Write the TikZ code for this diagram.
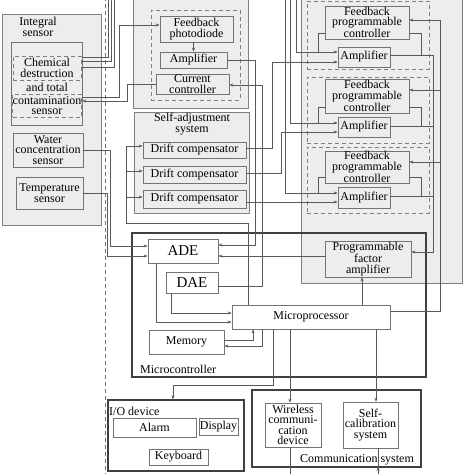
\documentclass[tikz,border=0pt]{standalone}
\usepackage{fontspec}
\setmainfont{Liberation Serif}
\usetikzlibrary{arrows.meta}
\newcommand\myfs{\fontsize{12}{10.5}\selectfont}
\newcommand\mybigfs{\fontsize{15}{14}\selectfont}
\newcommand\mybox[7]{\node[#2, minimum width={(#5-#3)*1pt}, minimum height={(#6-#4)*1pt}] (#1) at ({(#3+#5)/2},{(#4+#6)/2}) {#7};}
\begin{document}
\begin{tikzpicture}[x=1pt,y=-1pt,
  panel/.style={draw=black!50, fill=black!7, line width=0.7pt, inner sep=0pt},
  box/.style={draw=black!55, fill=black!7, line width=0.7pt, inner sep=0pt, align=center, font=\myfs},
  wbox/.style={box, fill=white},
  dbox/.style={draw=black!50, dash pattern=on 4pt off 3pt, line width=0.6pt, inner sep=0pt, align=center, font=\myfs},
  tbox/.style={draw=black!75, line width=1.3pt, inner sep=0pt},
  wire/.style={draw=black!65, line width=0.6pt},
  arr/.style={wire, -{Stealth[length=4pt,width=3pt]}},
  lbl/.style={inner sep=0pt, align=center, font=\myfs}
]
\useasboundingbox (0,0) rectangle (474,474);
\fill[white] (0,0) rectangle (474,474);

% ---------- panels ----------
\mybox{intpanel}{panel}{2}{14}{101}{225}{}
\mybox{midpanel}{panel}{133}{-3}{248}{108}{}
\mybox{selfpanel}{panel}{134}{112}{249}{213}{}
\mybox{rightpanel}{panel}{301}{-3}{462}{283}{}

% ---------- integral sensor ----------
\node[lbl] (inttitle) at (38,27) {Integral\\sensor};
\mybox{intinner}{box}{11}{42}{82}{125}{}
\mybox{chemA}{dbox}{13}{56}{81}{80}{Chemical\\destruction}
\node[lbl] (andtotal) at (47,87) {and total};
\mybox{chemB}{dbox}{13}{94}{81}{117}{contamination\\sensor}
\mybox{water}{box}{13}{133}{83}{167}{Water\\concentration\\sensor}
\mybox{temp}{box}{16}{177}{83}{209}{Temperature\\sensor}

% ---------- middle top ----------
\mybox{middashed}{dbox}{151}{10}{240}{100}{}
\mybox{photo}{box}{160}{16}{233}{42}{Feedback\\photodiode}
\mybox{amp0}{box}{160}{52}{227}{68}{Amplifier}
\mybox{current}{box}{156}{74}{229}{94}{Current\\controller}

% ---------- self adjustment ----------
\node[lbl] (selftitle) at (192,124) {Self-adjustment\\system};
\mybox{dc1}{box}{143}{142}{246}{158}{Drift compensator}
\mybox{dc2}{box}{143}{166}{246}{183}{Drift compensator}
\mybox{dc3}{box}{143}{190}{246}{208}{Drift compensator}

% ---------- right panel ----------
\mybox{db1}{dbox}{307}{1}{429}{69}{}
\mybox{db2}{dbox}{307}{77}{429}{143}{}
\mybox{db3}{dbox}{307}{147}{429}{213}{}
\mybox{fpc1}{box}{325}{6}{409}{39}{Feedback\\programmable\\controller}
\mybox{amp1}{box}{338}{47}{390}{67}{Amplifier}
\mybox{fpc2}{box}{325}{79}{409}{113}{Feedback\\programmable\\controller}
\mybox{amp2}{box}{338}{117}{390}{137}{Amplifier}
\mybox{fpc3}{box}{325}{151}{409}{183}{Feedback\\programmable\\controller}
\mybox{amp3}{box}{338}{187}{390}{208}{Amplifier}
\mybox{pfa}{box}{325}{241}{411}{277}{Programmable\\factor\\amplifier}

% ---------- microcontroller ----------
\mybox{mc}{tbox}{132}{233}{426}{377}{}
\node[lbl, anchor=west] (mclbl) at (140,369) {Microcontroller};
\mybox{ade}{wbox}{148}{239}{218}{263}{\mybigfs ADE}
\mybox{dae}{wbox}{166}{272}{218}{293}{\mybigfs DAE}
\mybox{mp}{wbox}{232}{305}{390}{329}{Microprocessor}
\mybox{memory}{wbox}{149}{330}{224}{354}{Memory}

% ---------- I/O ----------
\mybox{io}{tbox}{108}{400}{244}{471}{}
\node[lbl, anchor=west] (iolbl) at (109,411) {I/O device};
\mybox{alarm}{wbox}{113}{418}{196}{437}{Alarm}
\mybox{display}{wbox}{199}{418}{238}{435}{Display}
\mybox{keyboard}{wbox}{149}{449}{208}{465}{Keyboard}

% ---------- communication ----------
\mybox{comm}{tbox}{252}{390}{421}{467}{}
\node[lbl] (commlbl) at (357,460) {Communication system};
\mybox{wireless}{wbox}{265}{403}{321}{447}{Wireless\\communi-\\cation\\device}
\mybox{selfcal}{wbox}{343}{402}{398}{448}{Self-\\calibration\\system}

% ---------- dashed separator ----------
\coordinate (sepT) at (105,-3);
\coordinate (sepB) at (105,477);
\draw[draw=black!55, dash pattern=on 4pt off 3pt, line width=0.6pt] (sepT) -- (sepB);

% ---------- free ends ----------
\coordinate (t1) at (108,-3);
\coordinate (t2) at (111,-3);
\coordinate (t3) at (114,-3);
\coordinate (t4) at (296,-3);
\coordinate (t5) at (290,-3);
\coordinate (t6) at (285,-3);
\coordinate (b1) at (290,477);
\coordinate (b2) at (378,477);
\coordinate (b2a) at (378,467);
\coordinate (f2) at (440,90);
\coordinate (f3) at (440,162);
\coordinate (s2) at (126,171);
\coordinate (s3) at (126,197);

% ---------- connectors ----------
\draw[wire] (intinner.east |- 0,57) -| (t1);
\draw[wire] (intinner.east |- 0,61) -| (t2);
\draw[wire] (intinner.east |- 0,67) -| (t3);
\draw[arr] (intinner.east |- 0,97) -| (119,25) -- (photo.west |- 0,25);
\draw[arr] (current.west) -| (127,101) -- (intinner.east |- 0,101);
\draw[arr] (photo.south -| amp0.north) -- (amp0.north);
\draw[arr] (amp0.east) -| (255,245) -- (ade.east |- 0,245);
\draw[arr] (dae.east |- 0,286) -| (262,85) -- (current.east |- 0,85);

\draw[arr] (t4) |- (amp1.west |- 0,52);
\draw[arr] (t5) |- (amp2.west |- 0,123);
\draw[arr] (t6) |- (amp3.west |- 0,193);
\draw[arr] (dc1.east |- 0,148) -| (272,62) -- (amp1.west |- 0,62);
\draw[arr] (dc2.east |- 0,173) -| (281,132) -- (amp2.west |- 0,132);
\draw[arr] (dc3.east |- 0,202) -- (amp3.west |- 0,202);

\draw[wire] (fpc1.west |- 0,33) -| (318,52);
\draw[wire] (fpc1.east |- 0,33) -| (421,55);
\draw[wire] (fpc2.west |- 0,107) -| (318,123);
\draw[wire] (fpc2.east |- 0,107) -| (421,126);
\draw[wire] (fpc3.west |- 0,177) -| (318,193);
\draw[wire] (fpc3.east |- 0,177) -| (421,196);

\draw[arr] (amp1.east |- 0,55) -- (433,55) |- (pfa.east |- 0,252);
\draw[wire] (amp2.east |- 0,126) -- (433,126);
\draw[wire] (amp3.east |- 0,196) -- (433,196);

\draw[arr] (mp.east |- 0,311) -| (440,20) -- (fpc1.east |- 0,20);
\draw[arr] (f2) -- (fpc2.east |- 0,90);
\draw[arr] (f3) -- (fpc3.east |- 0,162);

\draw[arr] (mp.north -| 362,0) -- (pfa.south -| 362,0);
\draw[arr] (pfa.west |- 0,256) -- (ade.east |- 0,256);

\draw[arr] (water.east) -| (110,246) -- (ade.west |- 0,246);
\draw[arr] (temp.east) -| (107,256) -- (ade.west |- 0,256);

\draw[arr] (mp.north -| 248,0) |- (126,223) |- (dc1.west |- 0,146);
\draw[arr] (s2) -- (dc2.west |- 0,171);
\draw[arr] (s3) -- (dc3.west |- 0,197);

\draw[arr] (ade.south -| 156,0) |- (mp.west |- 0,322);
\draw[arr] (dae.south -| 171,0) |- (mp.west |- 0,313);
\draw[arr] (memory.east |- 0,340) -| (mp.south -| 253,0);
\draw[arr] (mp.south -| 262,0) |- (memory.east |- 0,346);

\draw[arr] (mp.south -| 273,0) -- (273,385) -| (io.north -| 173,0);
\draw[arr] (mp.south -| 290,0) -- (wireless.north -| 290,0);
\draw[arr] (mp.south -| 376,0) -- (selfcal.north -| 376,0);
\draw[wire] (wireless.south -| 290,0) -- (b1);
\draw[wire] (selfcal.south -| 378,0) -- (b2);
\draw[arr] (b2) -- (b2a);
\end{tikzpicture}
\end{document}
